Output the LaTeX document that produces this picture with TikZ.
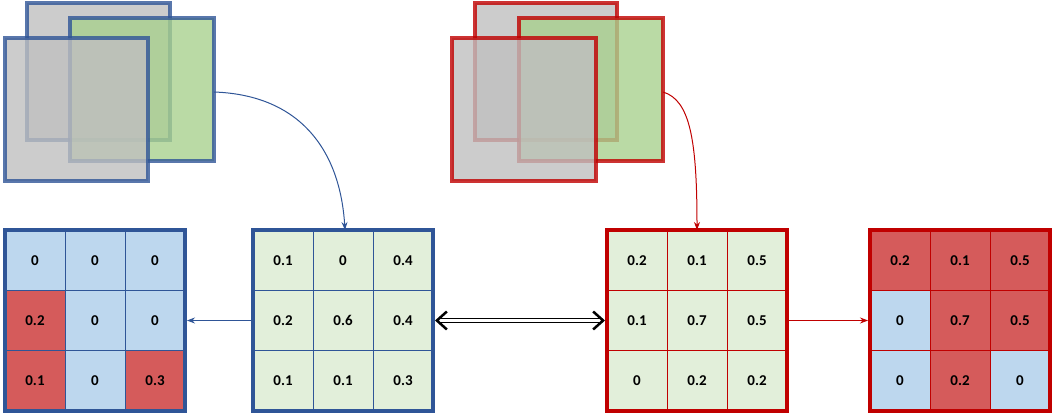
\documentclass[tikz,border=0pt]{standalone}
\usepackage{fontspec}
\setmainfont{Carlito}
\usetikzlibrary{arrows.meta}
\definecolor{bfr}{HTML}{2F5597}
\definecolor{rfr}{HTML}{C00000}
\definecolor{lb}{HTML}{BDD7EE}
\definecolor{rc}{HTML}{D55B5B}
\definecolor{lg}{HTML}{E2EFDA}
\definecolor{gr}{HTML}{BFBFBF}
\definecolor{gn}{HTML}{A9D18E}
\tikzset{
 sq/.style={line width=4pt,opacity=0.8},
 cell/.style={font=\bfseries\fontsize{15}{17}\selectfont,minimum size=60pt,inner sep=0pt,line width=1pt},
 gframe/.style={line width=4pt,minimum width=180pt,minimum height=181pt,draw},
}
\newcommand{\mygrid}[4]{% x0, frame color, values/fills, name
 \foreach \v/\f [count=\i from 0] in {#3}{
  \pgfmathtruncatemacro\r{\i/3}\pgfmathtruncatemacro\c{mod(\i,3)}
  \node[cell,draw=#2,fill=\f] (#4-\i) at (#1+30+60*\c,260.5+60*\r) {\v};
 }
 \node[gframe,draw=#2] (#4) at (#1+90,320.5) {};
}
\begin{document}
\begin{tikzpicture}[x=1pt,y=-1pt]
\useasboundingbox (0,0) rectangle (1055,417);
% top left group
\draw[sq,bfr,fill=gr] (27,3) rectangle (170,140);
\draw[sq,bfr,fill=gn] (70,18) rectangle (214,161);
\draw[sq,bfr,fill=gr] (5,38) rectangle (148,181);
\coordinate (tl) at (214,92);
% top right group
\draw[sq,rfr,fill=gr] (475,3) rectangle (617,140);
\draw[sq,rfr,fill=gn] (519,18) rectangle (663,161);
\draw[sq,rfr,fill=gr] (452,38) rectangle (596,181);
\coordinate (tr) at (663,92);
% grids
\mygrid{5}{bfr}{0/lb,0/lb,0/lb,0.2/rc,0/lb,0/lb,0.1/rc,0/lb,0.3/rc}{ga}
\mygrid{253}{bfr}{0.1/lg,0/lg,0.4/lg,0.2/lg,0.6/lg,0.4/lg,0.1/lg,0.1/lg,0.3/lg}{gb}
\mygrid{607}{rfr}{0.2/lg,0.1/lg,0.5/lg,0.1/lg,0.7/lg,0.5/lg,0/lg,0.2/lg,0.2/lg}{gc}
\mygrid{870}{rfr}{0.2/rc,0.1/rc,0.5/rc,0/lb,0.7/rc,0.5/rc,0/lb,0.2/rc,0/lb}{gd}
\coordinate (gbtop) at (345,230);
\coordinate (gctop) at (697,230);
% connectors
\draw[bfr,line width=1pt,-{Stealth[length=8pt]}] (tl) .. controls (300,95) and (340,150) .. (gbtop);
\draw[rfr,line width=1pt,-{Stealth[length=8pt]}] (tr) .. controls (690,100) and (697,140) .. (gctop);
\draw[bfr,line width=0.8pt,-{Stealth[length=8pt]}] (gb.west) -- (ga.east);
\draw[rfr,line width=0.8pt,-{Stealth[length=8pt]}] (gc.east) -- (gd.west);
\draw[black,double,double distance=2.5pt,line width=1.2pt,{Straight Barb[length=10pt,width=18pt,line width=2.5pt]}-{Straight Barb[length=10pt,width=18pt,line width=2.5pt]}] (gb.east) -- (gc.west);
\end{tikzpicture}
\end{document}
